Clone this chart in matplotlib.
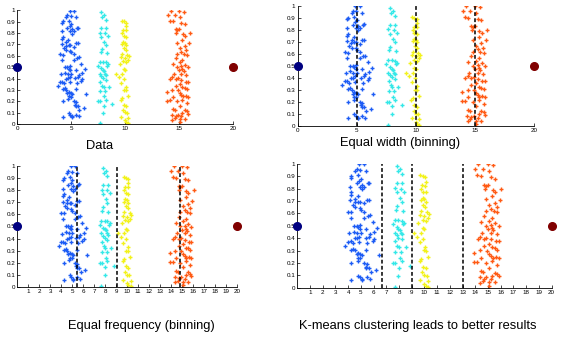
import matplotlib.pyplot as plt
import numpy as np

plt.rcParams['font.family'] = ['Liberation Sans', 'DejaVu Sans']

# Punkte der vier Gruppen (x, y)
blau = [(4.88,0.997),(5.25,0.997),(4.66,0.959),(4.97,0.953),(5.43,0.939),(4.57,0.939),(4.26,0.901),(4.78,0.909),
        (4.20,0.886),(5.03,0.880),(4.88,0.863),(5.56,0.842),(5.65,0.848),(4.66,0.842),(5.09,0.833),(4.94,0.813),
        (4.14,0.813),(5.25,0.813),(5.12,0.795),(4.26,0.769),(4.20,0.749),(4.75,0.740),(4.57,0.719),(4.14,0.705),
        (5.49,0.711),(5.65,0.711),(4.78,0.696),(4.94,0.696),(4.51,0.690),(5.25,0.681),(4.35,0.667),(4.94,0.646),
        (5.03,0.629),(4.57,0.652),(4.01,0.614),(5.25,0.614),(4.26,0.608),(5.56,0.579),(5.71,0.585),(5.25,0.564),
        (4.20,0.564),(5.93,0.529),(4.94,0.506),(4.66,0.500),(4.44,0.500),(4.78,0.488),(6.27,0.485),(4.91,0.477),
        (5.43,0.477),(6.05,0.447),(4.44,0.453),(4.72,0.442),(5.03,0.442),(4.10,0.439),(5.74,0.430),(4.88,0.412),
        (5.65,0.412),(4.54,0.398),(5.37,0.401),(4.72,0.401),(6.05,0.395),(5.93,0.380),(4.20,0.374),(3.98,0.371),
        (4.38,0.360),(4.88,0.368),(5.52,0.360),(3.77,0.336),(4.41,0.316),(4.57,0.301),(4.26,0.307),(5.43,0.304),
        (4.66,0.269),(4.97,0.272),(5.12,0.266),(4.81,0.278),(4.78,0.243),(4.75,0.219),(4.97,0.237),(6.39,0.263),
        (4.26,0.199),(5.25,0.199),(5.49,0.190),(5.37,0.170),(5.65,0.155),(5.77,0.126),(5.43,0.155),(6.17,0.140),
        (4.78,0.096),(4.94,0.082),(5.12,0.067),(5.49,0.082),(5.74,0.067),(4.26,0.061),(5.12,0.061)]

cyan = [(7.81,0.980),(8.06,0.959),(7.90,0.939),(8.21,0.915),(7.81,0.842),(8.27,0.842),(8.15,0.798),(7.69,0.804),
        (7.81,0.769),(8.40,0.775),(8.06,0.725),(8.21,0.696),(7.84,0.658),(7.75,0.629),(8.30,0.623),(7.65,0.547),
        (7.96,0.547),(8.21,0.541),(8.43,0.526),(7.50,0.512),(8.33,0.512),(7.81,0.491),(7.96,0.477),(8.06,0.468),
        (7.65,0.442),(8.15,0.442),(7.81,0.424),(8.27,0.433),(7.96,0.404),(7.72,0.374),(8.21,0.389),(7.87,0.336),
        (8.02,0.325),(8.52,0.325),(7.72,0.287),(8.15,0.287),(8.06,0.243),(7.53,0.199),(7.72,0.199),(8.21,0.213),
        (8.83,0.175),(8.02,0.161),(7.96,0.096),(7.65,0.009)]

gelb = [(9.69,0.909),(9.88,0.901),(10.06,0.892),(10.12,0.857),(9.81,0.827),(10.06,0.822),(9.75,0.798),(9.88,0.775),
        (10.12,0.769),(9.85,0.725),(10.00,0.716),(9.75,0.705),(10.12,0.696),(9.91,0.667),(10.06,0.652),(9.75,0.617),
        (10.22,0.608),(10.37,0.594),(9.66,0.588),(10.00,0.579),(10.28,0.564),(9.85,0.550),(10.12,0.541),(9.51,0.526),
        (9.88,0.482),(10.00,0.471),(9.20,0.442),(9.75,0.442),(9.44,0.412),(9.91,0.395),(9.66,0.365),(10.06,0.330),
        (9.94,0.301),(10.12,0.295),(10.25,0.249),(9.75,0.228),(9.63,0.213),(9.88,0.170),(10.12,0.155),(9.81,0.126),
        (10.00,0.102),(10.19,0.096),(9.66,0.061),(10.31,0.053),(10.00,0.032),(10.12,0.015),(10.31,0.009)]

orange = [(14.23,0.997),(15.00,0.997),(15.43,0.988),(13.98,0.959),(14.60,0.959),(15.06,0.939),(14.14,0.909),(14.44,0.901),
          (15.22,0.892),(15.52,0.880),(14.69,0.833),(15.00,0.833),(14.81,0.822),(15.37,0.792),(16.05,0.798),(14.75,0.798),
          (15.56,0.775),(15.31,0.740),(15.93,0.711),(14.81,0.716),(15.52,0.687),(15.06,0.667),(15.68,0.652),(15.22,0.637),
          (14.81,0.617),(15.46,0.617),(15.74,0.608),(14.69,0.579),(15.31,0.564),(15.06,0.541),(14.44,0.529),(15.56,0.520),
          (15.22,0.506),(14.81,0.500),(15.83,0.497),(15.31,0.482),(15.00,0.471),(15.43,0.462),(14.51,0.442),(15.22,0.442),
          (15.68,0.433),(14.38,0.412),(14.88,0.404),(14.20,0.395),(14.69,0.395),(15.22,0.389),(15.62,0.374),(15.83,0.374),
          (15.06,0.354),(14.69,0.336),(15.31,0.325),(15.52,0.319),(14.38,0.301),(14.91,0.295),(15.74,0.307),(15.06,0.272),
          (13.89,0.278),(15.22,0.257),(15.62,0.251),(15.37,0.243),(14.44,0.237),(15.83,0.237),(14.14,0.208),(13.92,0.205),
          (14.81,0.199),(15.31,0.213),(15.74,0.184),(15.06,0.161),(14.44,0.132),(14.60,0.126),(15.52,0.120),(15.74,0.111),
          (15.31,0.096),(14.35,0.082),(14.69,0.073),(14.88,0.082),(15.83,0.091),(15.22,0.067),(14.60,0.053),(15.06,0.044),
          (14.38,0.038),(15.52,0.044),(15.06,0.015)]

ausreisser_links = (0, 0.5)
ausreisser_rechts = (20, 0.5)

# Grenzen der Intervalle
grenzen_breite = [5, 10, 15]
grenzen_frequenz = [5.4, 9.05, 14.8]
grenzen_kmeans = [6.7, 9.0, 13.0]

titel = ['Data', 'Equal width (binning)', 'Equal frequency (binning)',
         'K-means clustering leads to better results']

fig = plt.figure(figsize=(5.7, 3.4), dpi=100)

# Positionen der Achsen (links, unten, breite, hoehe)
rects = [[0.030, 0.635, 0.379, 0.335],
         [0.522, 0.630, 0.415, 0.353],
         [0.030, 0.156, 0.386, 0.356],
         [0.5216, 0.154, 0.446, 0.364]]
grenzen = [None, grenzen_breite, grenzen_frequenz, grenzen_kmeans]
titel_pos = [(100, 146), (400, 143), (141, 326), (418, 326)]

for i in range(4):
    ax = fig.add_axes(rects[i])
    for pts, farbe in [(blau, '#1d5cf5'), (cyan, '#33e8e8'), (gelb, '#f2f21a'), (orange, '#ff5a14')]:
        p = np.array(pts)
        ax.plot(p[:, 0], p[:, 1], '+', color=farbe, ms=2.4, mew=1.0, zorder=2)
    ax.plot(*ausreisser_links, 'o', color='#000080', ms=5.5, clip_on=False, zorder=4)
    ax.plot(*ausreisser_rechts, 'o', color='#800000', ms=5.5, clip_on=False, zorder=4)
    if grenzen[i] is not None:
        for g in grenzen[i]:
            ax.axvline(g, color='black', ls=(0, (2.5, 1.5)), lw=1.1, zorder=3)
    ax.set_xlim(0, 20)
    ax.set_ylim(0, 1)
    if i < 2:
        ax.set_xticks([0, 5, 10, 15, 20])
    else:
        ax.set_xticks(range(1, 21))
    ax.set_yticks(np.arange(0, 1.01, 0.1))
    ax.set_yticklabels(['0', '0.1', '0.2', '0.3', '0.4', '0.5', '0.6', '0.7', '0.8', '0.9', '1'])
    ax.tick_params(direction='in', length=2, width=0.5, labelsize=4.5, pad=1.5)
    ax.spines['top'].set_visible(False)
    ax.spines['right'].set_visible(False)
    ax.spines['left'].set_linewidth(0.6)
    ax.spines['bottom'].set_linewidth(0.6)
    fig.text(titel_pos[i][0] / 570, 1 - titel_pos[i][1] / 340, titel[i],
             ha='center', va='center', fontsize=9.3)

fig.savefig('out.png', dpi=100)
